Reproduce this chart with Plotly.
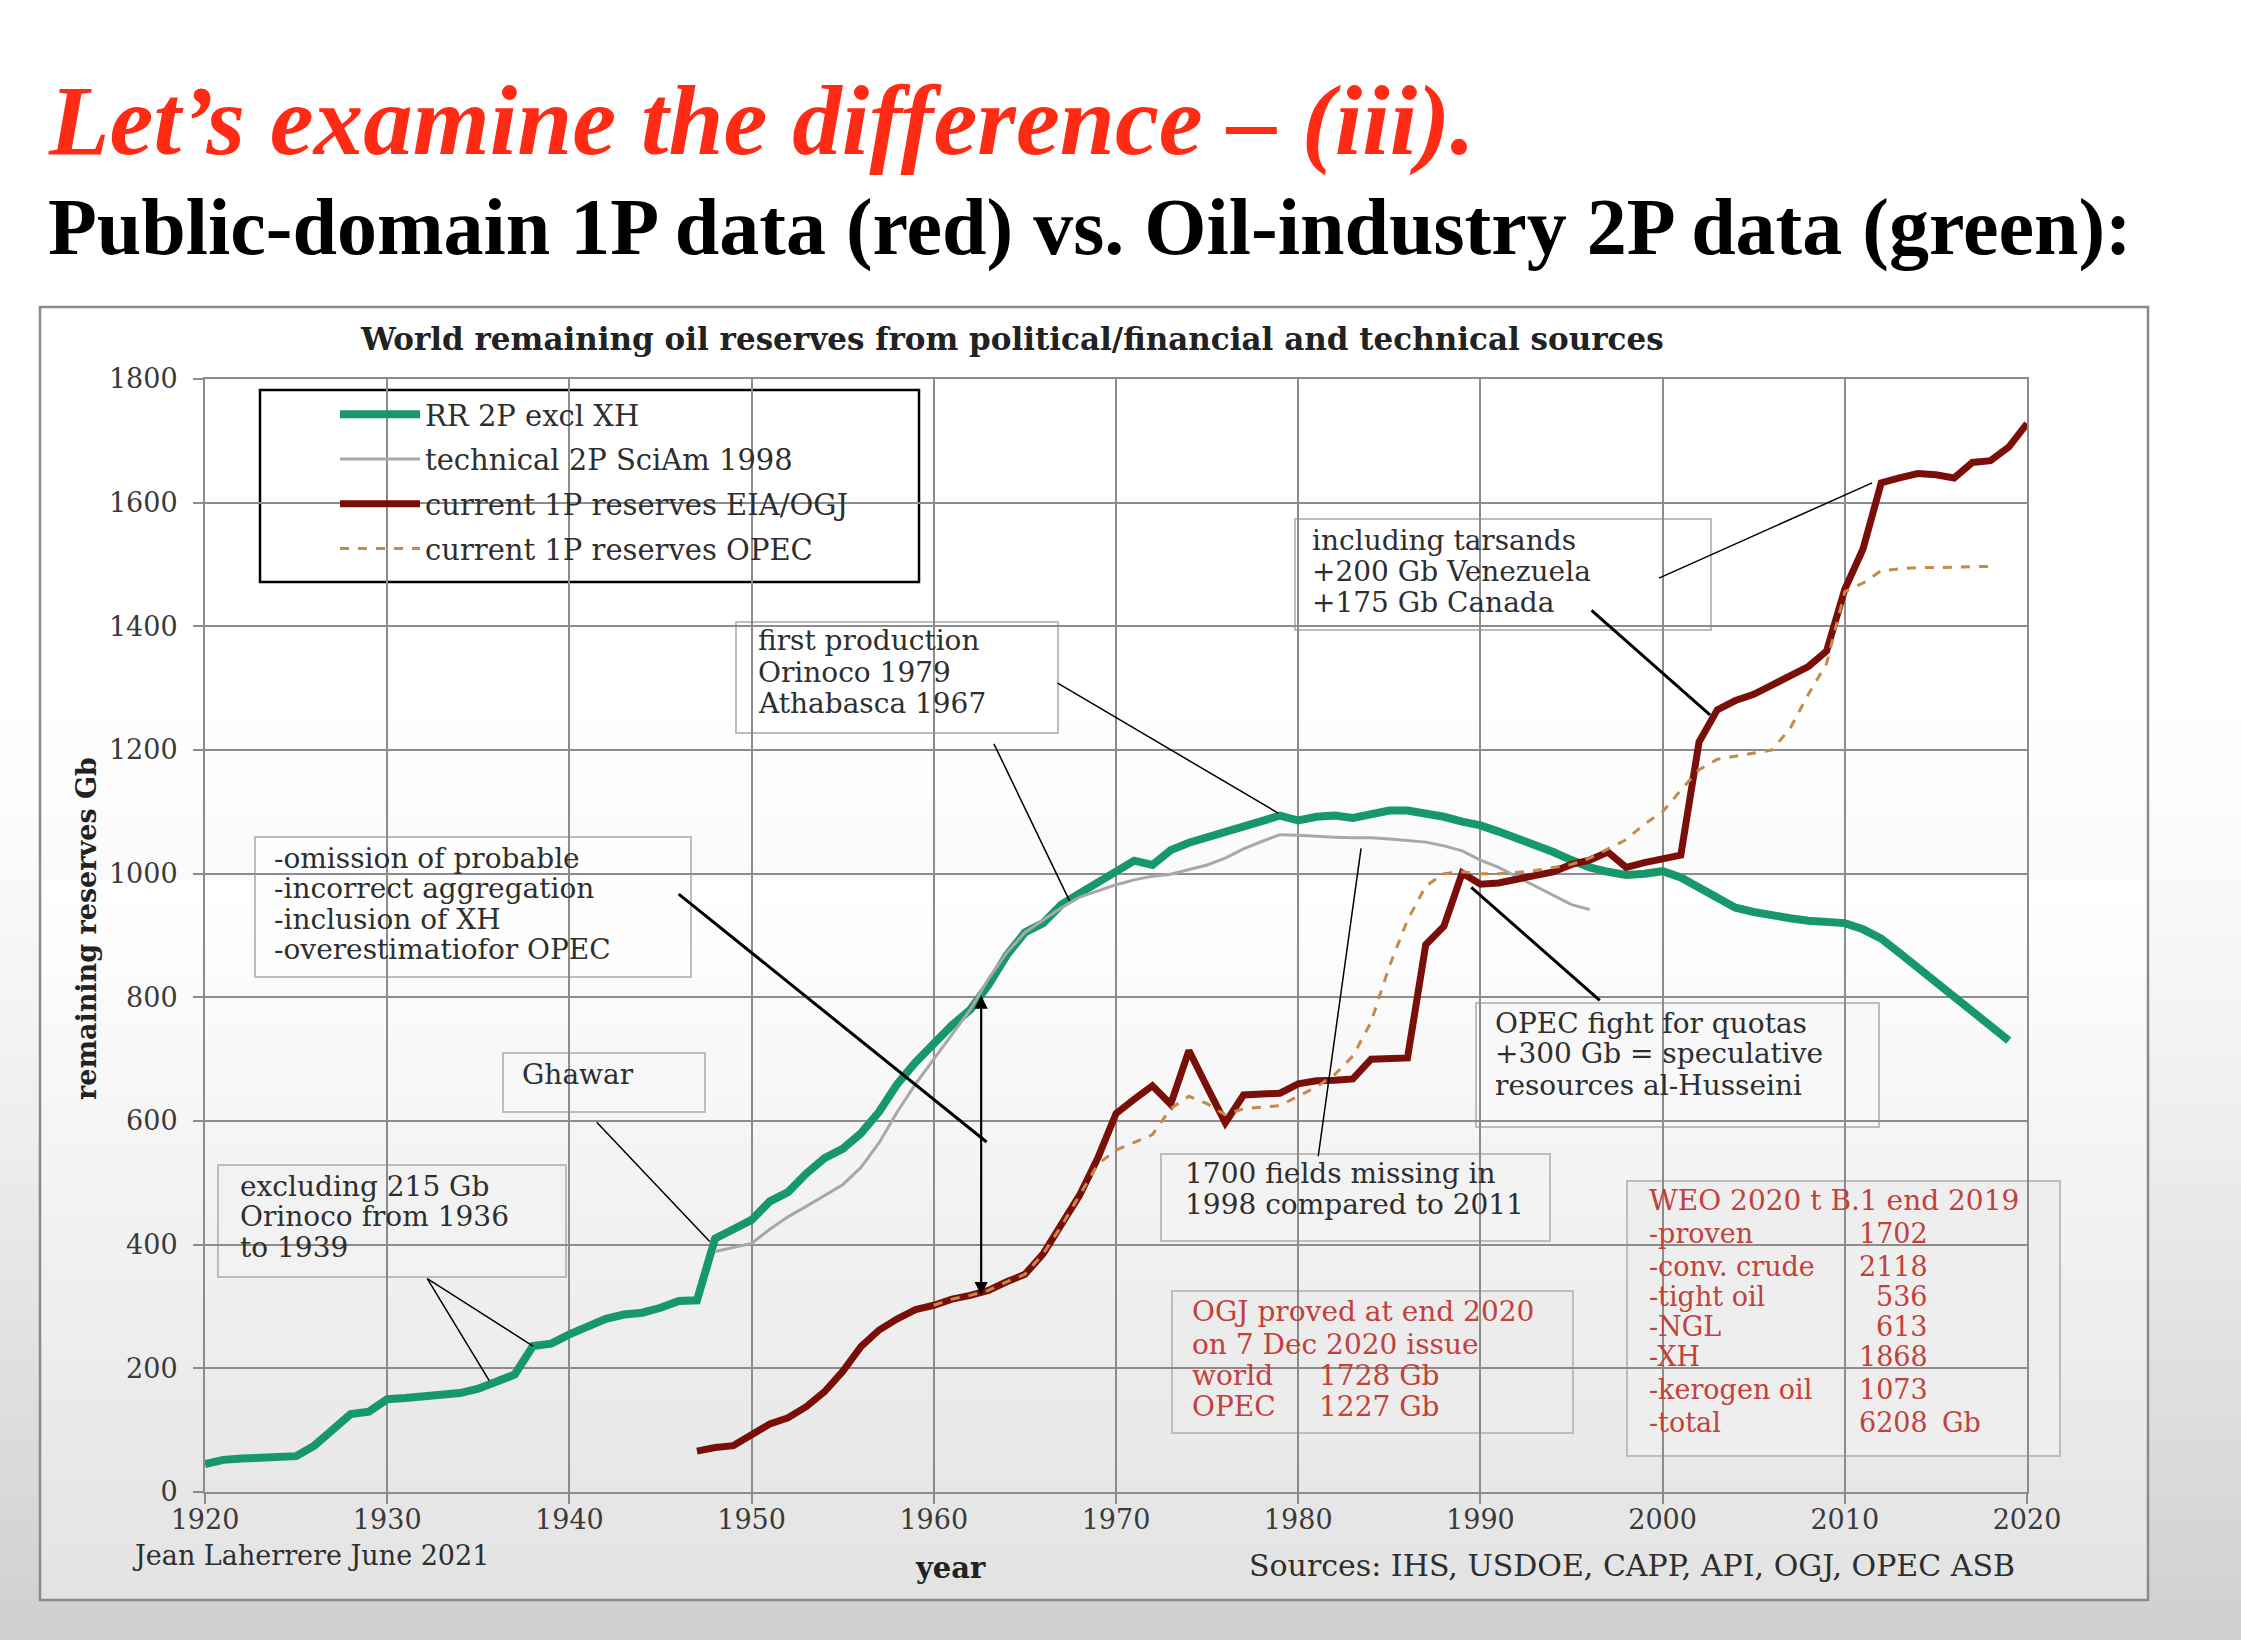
import plotly.graph_objects as go

# ---------------- data ----------------
rr2p_years = list(range(1920, 2020))
rr2p_values = [45, 52, 54, 56, 57, 58, 75, 100, 126, 130,
               150, 152, 155, 157, 160, 167, 178, 190, 236, 240,
               255, 268, 280, 287, 290, 298, 309, 310, 410, 425,
               440, 470, 485, 515, 540, 555, 580, 615, 660, 695,
               725, 755, 780, 820, 868, 905, 920, 950, 968, 985,
               1001, 1021, 1014, 1038, 1050, 1058, 1066, 1075, 1085, 1094,
               1086, 1092, 1094, 1090, 1095, 1102, 1102, 1098, 1092, 1084,
               1078, 1068, 1058, 1046, 1035, 1022, 1010, 1003, 998, 1000,
               1004, 994, 978, 962, 945, 938, 932, 928, 924, 922,
               920, 910, 895, 872, 848, 824, 800, 778, 755, 730]

sciam_years = list(range(1948, 1997))
sciam_values = [389, 395, 402, 425, 445, 462, 480, 497, 525, 565,
                615, 660, 700, 740, 780, 830, 872, 905, 925, 945,
                962, 972, 982, 990, 996, 999, 1006, 1014, 1025, 1040,
                1052, 1063, 1062, 1060, 1059, 1058, 1058, 1056, 1054, 1051,
                1045, 1037, 1022, 1010, 995, 980, 966, 950, 942]

eia_years = list(range(1947, 2021))
eia_values = [66, 72, 75, 92, 110, 120, 138, 162, 195, 235,
              262, 280, 295, 302, 312, 318, 326, 340, 352, 385,
              430, 480, 540, 612, 635, 657, 627, 714, 655, 597,
              642, 643, 645, 660, 665, 666, 668, 700, 701, 702,
              885, 915, 1001, 983, 985, 991, 996, 1003, 1015, 1022,
              1035, 1010, 1018, 1024, 1030, 1213, 1265, 1280, 1290, 1305,
              1320, 1335, 1360, 1460, 1525, 1632, 1640, 1647, 1645, 1640,
              1665, 1668, 1690, 1728]

opec_years = list(range(1960, 2019))
opec_values = [302, 312, 318, 326, 340, 352, 385, 430, 480, 530,
               553, 565, 578, 620, 640, 628, 610, 620, 622, 625,
               640, 655, 675, 705, 760, 850, 925, 980, 1000, 1003,
               1000, 1000, 1002, 1005, 1010, 1015, 1025, 1040, 1055, 1080,
               1100, 1135, 1168, 1185, 1190, 1194, 1200, 1235, 1290, 1340,
               1456, 1470, 1490, 1493, 1495, 1495, 1496, 1497, 1497]

series_names = ["RR 2P excl XH", "technical 2P SciAm 1998",
                "current 1P reserves EIA/OGJ", "current 1P reserves OPEC"]

y_ticks = [0, 200, 400, 600, 800, 1000, 1200, 1400, 1600, 1800]
x_ticks = [1920, 1930, 1940, 1950, 1960, 1970, 1980, 1990, 2000, 2010, 2020]

weo_labels = ["-proven", "-conv. crude", "-tight oil", "-NGL", "-XH", "-kerogen oil", "-total"]
weo_values = ["1702", "2118", "536", "613", "1868", "1073", "6208"]

# ---------------- styling ----------------
SERIF = "DejaVu Serif"
TIMES = "Liberation Serif"
TXT = "#2e2e2e"
RED_TXT = "#c2413a"
GREEN = "#17986a"
DARKRED = "#7a0f0a"
GRAY = "#a8a8a8"
TAN = "#c48a4a"
GRID = "#8c8c8c"

W, H = 2241, 1640
PL, PR, PT, PB = 205, 2027, 379, 1492


def px(X):
    return (X - PL) / (PR - PL)


def py(Y):
    return (PB - Y) / (PB - PT)


annotations = []
shapes = []


def label(X, Y, s, size=28, color=TXT, xanchor="left", family=SERIF, angle=0):
    annotations.append(dict(x=px(X), y=py(Y), xref="paper", yref="paper", text=s,
                            showarrow=False, xanchor=xanchor, yanchor="middle",
                            textangle=angle,
                            font=dict(family=family, size=size, color=color)))


def rect(X0, Y0, X1, Y1, fill, lc="rgba(0,0,0,0)", lw=0, layer="below"):
    shapes.append(dict(type="rect", xref="paper", yref="paper",
                       x0=px(X0), x1=px(X1), y0=py(Y1), y1=py(Y0),
                       fillcolor=fill, line=dict(color=lc, width=lw), layer=layer))


def outer_level(Y):
    if Y <= 700:
        return 255
    return 255 - 48 * ((Y - 700) / 940.0) ** 1.3


def inner_level(Y):
    if Y <= 880:
        return 255
    return 255 - 28 * ((Y - 880) / 720.0)


def gcol(v):
    v = int(round(v))
    return "rgb(%d,%d,%d)" % (v, v, v)


# background gradient (slide look)
step = 20
for Y in range(700, 1640, step):
    rect(0, Y, W, Y + step + 1, gcol(outer_level(Y + step / 2)))
for Y in range(880, 1600, step):
    rect(40, Y, 2148, min(Y + step + 1, 1600), gcol(inner_level(Y + step / 2)))
# chart frame
rect(40, 307, 2148, 1600, "rgba(0,0,0,0)", "#8a8a8a", 2.5)

# legend frame
rect(260, 390, 919, 582, "white", "black", 2.5, layer="between")

# text boxes
boxes = [(218, 1165, 566, 1277), (503, 1053, 705, 1112), (255, 837, 691, 977),
         (736, 622, 1058, 733), (1161, 1154, 1550, 1241), (1476, 1003, 1879, 1127),
         (1295, 519, 1711, 630), (1172, 1291, 1573, 1433), (1627, 1181, 2060, 1456)]
for (X0, Y0, X1, Y1) in boxes:
    rect(X0, Y0, X1, Y1, gcol(inner_level((Y0 + Y1) / 2)), "#bdbdbd", 2, layer="between")


def callout(x0, y0, x1, y1, w=1.5):
    shapes.append(dict(type="line", xref="x", yref="y", x0=x0, y0=y0, x1=x1, y1=y1,
                       line=dict(color="black", width=w), layer="above"))


callout(1932.2, 345, 1938.0, 236)
callout(1932.2, 345, 1935.6, 180)
callout(1941.5, 598, 1947.7, 405)
callout(1946.0, 967, 1962.9, 566, 3)
callout(1963.3, 1210, 1967.45, 956)
callout(1966.8, 1308, 1978.9, 1098)
callout(1981.1, 543, 1983.45, 1041)
callout(1996.55, 795, 1989.5, 978, 3)
callout(1999.8, 1478, 2011.5, 1632)
callout(1996.1, 1426, 2002.6, 1257, 3)

# double-headed arrow between 2P and 1P
annotations.append(dict(x=1962.6, y=803, ax=1962.6, ay=316, xref="x", yref="y",
                        axref="x", ayref="y", text="", showarrow=True,
                        arrowhead=2, arrowside="end+start", arrowsize=1.2,
                        arrowwidth=2.2, arrowcolor="black"))

# ---------------- texts ----------------
label(46, 121, "<b><i>Let\u2019s examine the difference \u2013 (iii).</i></b>", size=99,
      color="#ff2b14", family=TIMES)
label(46, 227, "<b>Public-domain 1P data (red) vs. Oil-industry 2P data (green):</b>",
      size=80, color="black", family=TIMES)
label(1012, 339, "<b>World remaining oil reserves from political/financial and technical sources</b>",
      size=31, color="#222222", xanchor="center")
label(86, 929, "<b>remaining reserves Gb</b>", size=27, color="#222222",
      xanchor="center", angle=-90)
label(130, 1555, "Jean Laherrere June 2021", size=27)
label(950, 1568, "<b>year</b>", size=29, color="#222222", xanchor="center")
label(1247, 1565, "Sources: IHS, USDOE, CAPP, API, OGJ, OPEC ASB", size=30)


def block(X, Ys, lines, size=28, color=TXT):
    for Y, s in zip(Ys, lines):
        label(X, Y, s, size=size, color=color)


block(238, [1186, 1216, 1247], ["excluding 215 Gb", "Orinoco from 1936", "to 1939"])
block(520, [1074], ["Ghawar"])
block(272, [858, 888, 919, 949], ["-omission of probable", "-incorrect aggregation",
                                  "-inclusion of XH", "-overestimatiofor OPEC"])
block(756, [640, 672, 703], ["first production", "Orinoco 1979", "Athabasca 1967"])
block(1183, [1173, 1204], ["1700 fields missing in", "1998 compared to 2011"])
block(1493, [1023, 1053, 1085], ["OPEC fight for quotas", "+300 Gb = speculative",
                                 "resources al-Husseini"])
block(1310, [540, 571, 602], ["including tarsands", "+200 Gb Venezuela", "+175 Gb Canada"])
block(1190, [1311, 1344, 1375, 1406], ["OGJ proved at end 2020", "on 7 Dec 2020 issue",
                                       "world", "OPEC"], color=RED_TXT)
block(1317, [1375, 1406], ["1728 Gb", "1227 Gb"], color=RED_TXT)
weo_y = [1233, 1266, 1296, 1326, 1356, 1389, 1422]
label(1647, 1200, "WEO 2020 t B.1 end 2019", size=28, color=RED_TXT)
for Y, lab, val in zip(weo_y, weo_labels, weo_values):
    label(1647, Y, lab, size=27, color=RED_TXT)
    label(1930, Y, val, size=27, color=RED_TXT, xanchor="right")
label(1940, weo_y[-1], "Gb", size=27, color=RED_TXT)

# ---------------- traces ----------------
fig = go.Figure()
fig.add_trace(go.Scatter(x=rr2p_years, y=rr2p_values, mode="lines", name=series_names[0],
                         legendgroup="a", line=dict(color=GREEN, width=8)))
fig.add_trace(go.Scatter(x=sciam_years, y=sciam_values, mode="lines", name=series_names[1],
                         legendgroup="b", line=dict(color=GRAY, width=3)))
fig.add_trace(go.Scatter(x=eia_years, y=eia_values, mode="lines", name=series_names[2],
                         legendgroup="c", line=dict(color=DARKRED, width=7)))
fig.add_trace(go.Scatter(x=opec_years, y=opec_values, mode="lines", name=series_names[3],
                         legendgroup="d", line=dict(color=TAN, width=3, dash="dash")))

axis_common = dict(showgrid=True, gridcolor=GRID, gridwidth=2, ticks="outside",
                   ticklen=10, tickwidth=2, tickcolor=GRID, showline=True,
                   linecolor=GRID, linewidth=2, mirror=True, zeroline=False,
                   tickfont=dict(family=SERIF, size=27, color="#3a3a3a"))

fig.update_layout(
    width=W, height=H,
    margin=dict(l=PL, r=W - PR, t=PT, b=H - PB, pad=0),
    paper_bgcolor="white", plot_bgcolor="rgba(0,0,0,0)",
    xaxis=dict(range=[1920, 2020], tickvals=x_ticks, ticklabelstandoff=-7, **axis_common),
    yaxis=dict(range=[0, 1800], tickvals=y_ticks, ticklabelstandoff=10, **axis_common),
    showlegend=True,
    legend=dict(x=px(335), y=py(389), xanchor="left", yanchor="top",
                bgcolor="rgba(0,0,0,0)", borderwidth=0, traceorder="grouped",
                tracegroupgap=4, itemwidth=80,
                font=dict(family=SERIF, size=29, color=TXT)),
    shapes=shapes,
    annotations=annotations,
)

fig.write_html("out.html")
